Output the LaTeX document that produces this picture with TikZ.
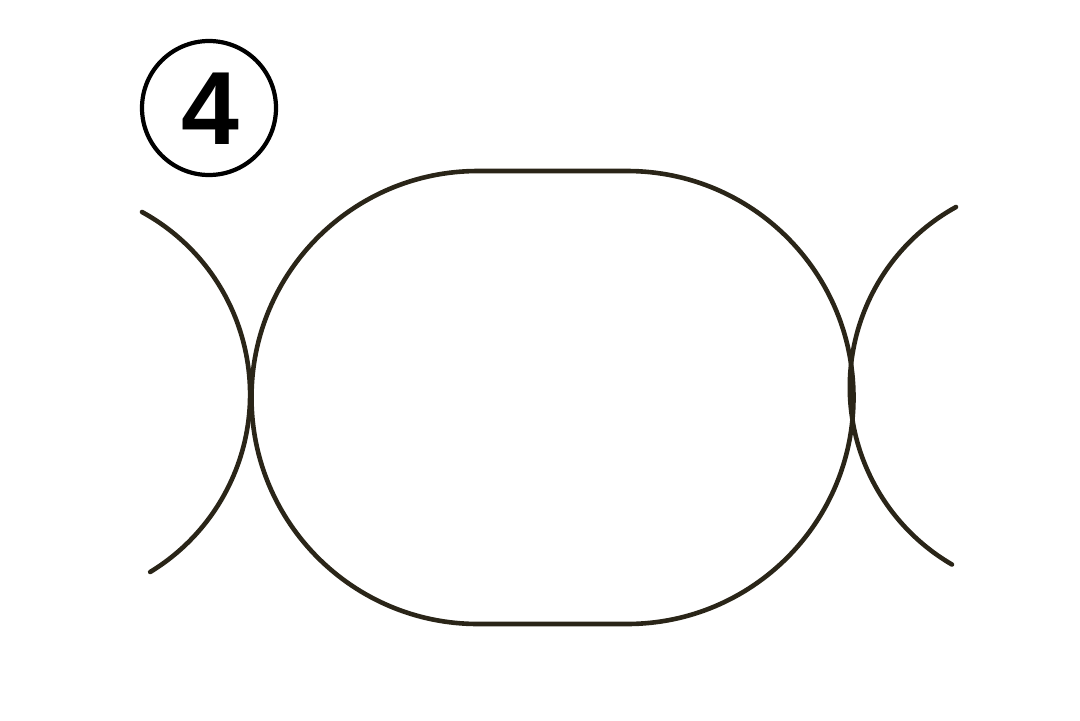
\documentclass[tikz,border=0pt]{standalone}
\usepackage{fontspec}
\setmainfont{Liberation Sans}
\definecolor{ink}{HTML}{2A2518}
\begin{document}
\begin{tikzpicture}[x=0.5pt,y=0.5pt,
  outline/.style={draw=ink,line width=2.3pt,line cap=round,line join=round},
  badge/.style={draw=black,line width=2.1pt}]
\useasboundingbox (0,0) rectangle (1080,720);
% circled number
\draw[badge] (209,612) circle[radius=67];
\node[inner sep=0pt,anchor=center] (num) at (210.5,611.5) {\fontsize{52}{52}\selectfont\bfseries 4};
% stadium
\draw[outline] (478,549) -- (627,549) arc[start angle=90,end angle=-90,radius=226.5]
  -- (478,96) arc[start angle=270,end angle=90,radius=226.5] -- cycle;
% left side arc
\draw[outline] (142,508) arc[start angle=61.3,end angle=-58.7,radius=207.9];
% right side arc
\draw[outline] (956,513) arc[start angle=118.9,end angle=239.8,radius=205.5];
\end{tikzpicture}
\end{document}
